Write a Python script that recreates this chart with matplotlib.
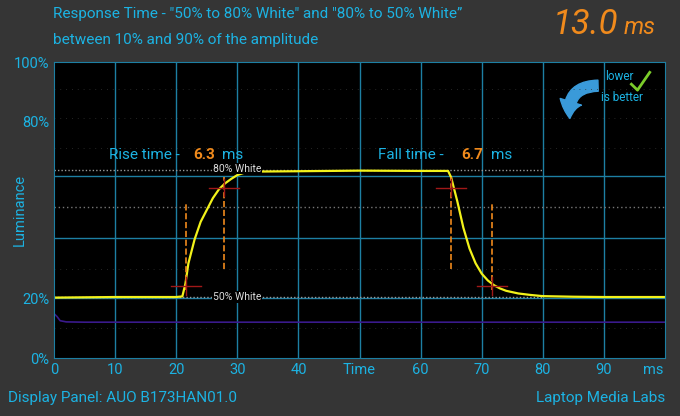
import matplotlib.pyplot as plt
from matplotlib.patches import FancyArrowPatch

plt.rcParams['font.family'] = ['Roboto', 'DejaVu Sans']

# luminance trace (ms, %)
trace_t = [0, 10, 20, 21, 21.5, 22, 23, 24, 25, 26, 27, 28, 29, 30, 31, 32, 34, 40, 50, 60, 64.5,
           65, 66, 67, 68, 69, 70, 71, 72, 73, 74, 76, 78, 80, 85, 90, 100]
trace_y = [20.4, 20.6, 20.6, 20.8, 25, 32, 40, 46, 50, 54, 57, 59, 60.5, 61.8, 62.5, 62.8, 63, 63.1, 63.3, 63.2, 63.2,
           61, 53, 44, 37, 32, 28.5, 26.2, 24.6, 23.5, 22.7, 21.8, 21.3, 20.9, 20.7, 20.6, 20.6]
purple_t = [0, 0.5, 1, 2, 5, 100]
purple_y = [15, 14, 12.6, 12.2, 12.1, 12.1]
rise_marks = [21.6, 27.8]
fall_marks = [65.0, 71.7]
x_ticks = [0, 10, 20, 30, 40, 50, 60, 70, 80, 90, 98]
x_labels = ["0", "10", "20", "30", "40", "Time", "60", "70", "80", "90", "ms"]
y_ticks = [0, 20, 80, 100]

cyan = "#1cb3e3"
orange = "#f08a1c"
bg = "#353535"

fig = plt.figure(figsize=(6.8, 4.16), dpi=100, facecolor=bg)
ax = fig.add_axes([54/680, 1-358/416, 611/680, 296/416], facecolor="black")
ax.set_xlim(0, 100)
ax.set_ylim(0, 100)

for x in range(10, 100, 10):
    ax.axvline(x, color="#1d7fa3", lw=1)
for y in [20.3, 40.5, 61.5]:
    ax.axhline(y, color="#1d7fa3", lw=1)
for y in [63.5, 20.6]:
    ax.axhline(y, xmax=0.8, color="#999999", lw=1, ls=(0, (1, 1.5)))
ax.axhline(51, color="#777777", lw=1, ls=(0, (1, 2)))
for y in [10, 30, 71, 81, 91]:
    ax.axhline(y, color="#333333", lw=0.6, ls=(0, (1, 6)))

ax.text(30, 64, "80% White", color="#dddddd", fontsize=7.5, ha="center", va="center",
        bbox=dict(fc="black", ec="none", pad=0.5))
ax.text(30, 20.6, "50% White", color="#dddddd", fontsize=7.5, ha="center", va="center",
        bbox=dict(fc="black", ec="none", pad=0.5))

ax.plot(purple_t, purple_y, color="#3a1a8c", lw=1.2)
ax.plot(trace_t, trace_y, color="#f2f21a", lw=1.6)

ax.plot([rise_marks[0]] * 2, [23, 52], color=orange, ls="--", lw=1.2)
ax.plot([rise_marks[1]] * 2, [30, 61], color=orange, ls="--", lw=1.2)
ax.plot([fall_marks[0]] * 2, [30, 61], color=orange, ls="--", lw=1.2)
ax.plot([fall_marks[1]] * 2, [23, 52], color=orange, ls="--", lw=1.2)
for tx, ty in [(rise_marks[0], 24.3), (rise_marks[1], 57.6), (fall_marks[0], 57.6), (fall_marks[1], 24.3)]:
    ax.plot([tx - 2.5, tx + 2.5], [ty, ty], color="#a01818", lw=1)
    ax.plot([tx, tx], [ty - 3, ty + 3], color="#a01818", lw=1)

fs = 11
ax.text(9, 68.5, "Rise time -", color=cyan, fontsize=fs, va="center")
ax.text(24.5, 68.5, "6.3", color=orange, fontsize=fs, va="center", ha="center", weight="bold")
ax.text(27.5, 68.5, "ms", color=cyan, fontsize=fs, va="center")
ax.text(53, 68.5, "Fall time -", color=cyan, fontsize=fs, va="center")
ax.text(68.5, 68.5, "6.7", color=orange, fontsize=fs, va="center", ha="center", weight="bold")
ax.text(71.5, 68.5, "ms", color=cyan, fontsize=fs, va="center")

ax.set_xticks(x_ticks)
ax.set_xticklabels(x_labels)
ax.set_yticks(y_ticks)
ax.set_yticklabels([f"{v}%" for v in y_ticks])
ax.tick_params(colors=cyan, labelsize=10.5, length=0)
ax.set_ylabel("Luminance", color=cyan, fontsize=10.5)
ax.yaxis.set_label_coords(-0.045, 0.5)
for s in ax.spines.values():
    s.set_color("#1d7fa3")

fig.text(53/680, 1-14/416, "Response Time - \"50% to 80% White\" and \"80% to 50% White\u201d",
         color=cyan, fontsize=11, va="center")
fig.text(53/680, 1-40/416, "between 10% and 90% of the amplitude", color=cyan, fontsize=11, va="center")
fig.text(618/680, 1-24/416, "13.0", color=orange, fontsize=25, ha="right", va="center", style="italic")
fig.text(624/680, 1-28/416, "ms", color=orange, fontsize=17, ha="left", va="center", style="italic")
fig.text(8/680, 1-398/416, "Display Panel: AUO B173HAN01.0", color=cyan, fontsize=11, va="center")
fig.text(665/680, 1-398/416, "Laptop Media Labs", color=cyan, fontsize=11, ha="right", va="center")

# "lower is better" badge
ax.add_patch(FancyArrowPatch((89.5, 92), (84.5, 80), transform=ax.transData, connectionstyle="arc3,rad=0.6",
                             arrowstyle="simple,head_width=16,head_length=12,tail_width=8",
                             color="#3a9ad9"))
ax.text(92.5, 95, "lower", color=cyan, fontsize=8.5, ha="center", va="center")
ax.text(93, 88, "is better", color=cyan, fontsize=8.5, ha="center", va="center")
ax.plot([94.5, 95.5, 97.5], [92.5, 90.5, 96.5], color="#7ccd2a", lw=2)

fig.savefig("out.png", dpi=100, facecolor=bg)
